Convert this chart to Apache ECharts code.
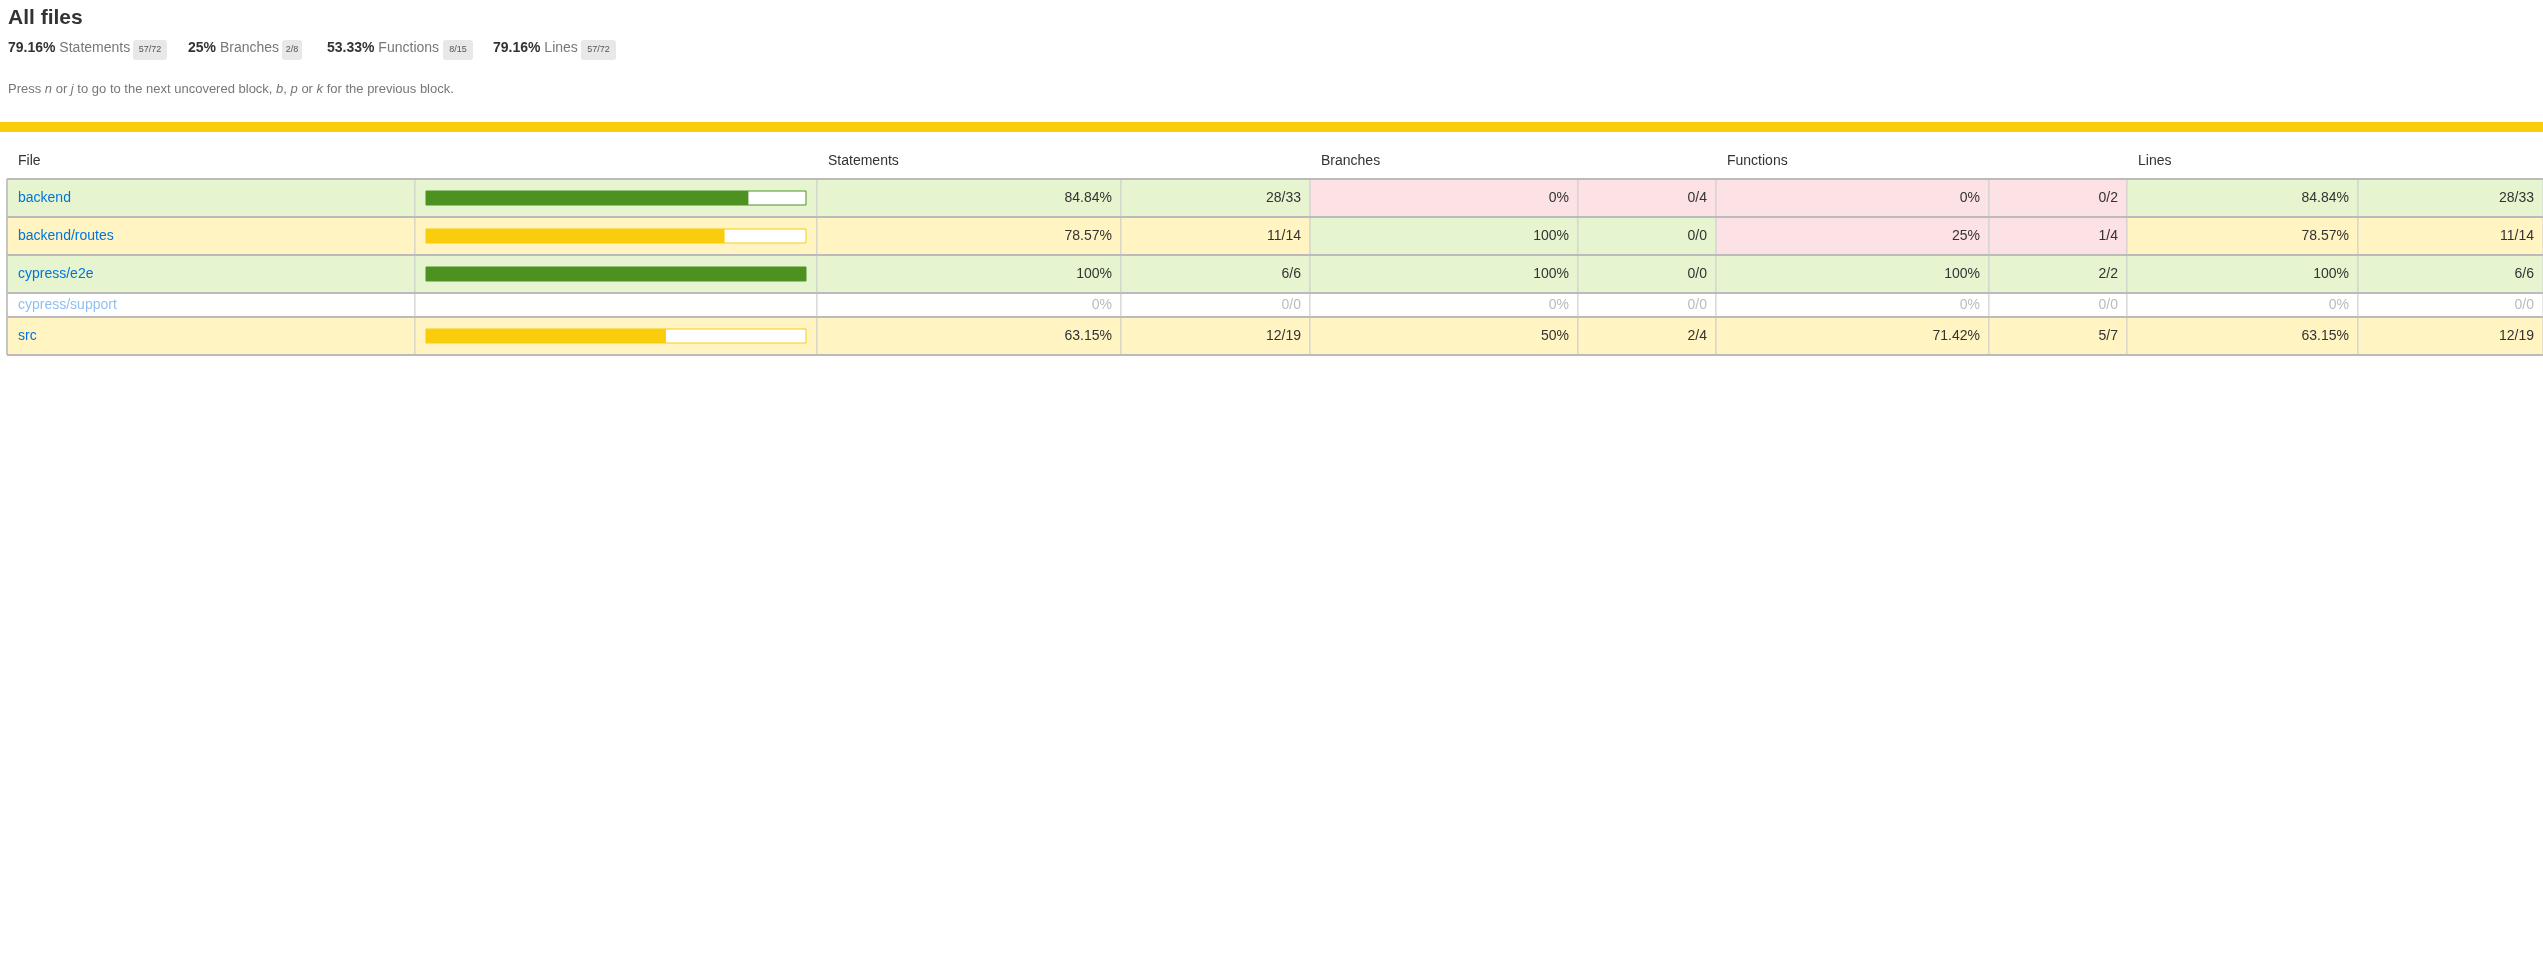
<!DOCTYPE html>
<html>
<head>
<meta charset="utf-8">
<script src="https://cdn.jsdelivr.net/npm/echarts@6/dist/echarts.min.js"></script>
<style>
  html, body { margin: 0; padding: 0; background: #fff; }
  #main { width: 2543px; height: 954px; }
</style>
</head>
<body>
<div id="main"></div>
<script>
// data
const files = ['backend', 'backend/routes', 'cypress/e2e', 'cypress/support', 'src'];
const stmtPct = [84.84, 78.57, 100, 0, 63.15];
const stmtFrac = ['28/33', '11/14', '6/6', '0/0', '12/19'];
const branchPct = [0, 100, 100, 0, 50];
const branchFrac = ['0/4', '0/0', '0/0', '0/0', '2/4'];
const funcPct = [0, 25, 100, 0, 71.42];
const funcFrac = ['0/2', '1/4', '2/2', '0/0', '5/7'];
const linePct = [84.84, 78.57, 100, 0, 63.15];
const lineFrac = ['28/33', '11/14', '6/6', '0/0', '12/19'];
const emptyRows = [false, false, false, true, false];
const headers = ['File', '', 'Statements', '', 'Branches', '', 'Functions', '', 'Lines', ''];
const summary = [
  { pct: '79.16%', label: 'Statements', frac: '57/72' },
  { pct: '25%', label: 'Branches', frac: '2/8' },
  { pct: '53.33%', label: 'Functions', frac: '8/15' },
  { pct: '79.16%', label: 'Lines', frac: '57/72' }
];

const FONT = '"Liberation Sans", Arial, sans-serif';
const colX = [7, 415, 817, 1121, 1310, 1578, 1716, 1989, 2127, 2358, 2543];
const rowY = [179, 217, 255, 293, 317, 355];
const levels = {
  high: { bg: '#e6f5d0', bar: '#4d9221' },
  medium: { bg: '#fff4c2', bar: '#f9cd0b' },
  low: { bg: '#fce1e5', bar: '#c21f39' },
  empty: { bg: '#ffffff', bar: '#ffffff' }
};
function level(p, empty) {
  if (empty) return 'empty';
  if (p >= 80) return 'high';
  if (p >= 50) return 'medium';
  return 'low';
}
const fmtPct = v => v + '%';

const graphic = [];
// header
graphic.push({ type: 'text', left: 8, top: 8, style: { text: 'All files', font: 'bold 21px ' + FONT, fill: '#333' } });
const sumX = [8, 188, 327, 493];
const badgeX = [[133, 167], [282, 302], [443, 473], [581, 616]];
summary.forEach((s, i) => {
  graphic.push({
    type: 'text', left: sumX[i], top: 41,
    style: {
      text: '{b|' + s.pct + '} ' + s.label,
      font: '14px ' + FONT, fill: '#777',
      rich: { b: { font: 'bold 14px ' + FONT, fill: '#333' } }
    }
  });
  graphic.push({
    type: 'rect', shape: { x: badgeX[i][0], y: 40, width: badgeX[i][1] - badgeX[i][0], height: 20, r: 3 },
    style: { fill: '#e8e8e8' }
  });
  graphic.push({
    type: 'text', x: (badgeX[i][0] + badgeX[i][1]) / 2, y: 50,
    style: { text: s.frac, font: '9px ' + FONT, fill: '#555', align: 'center', verticalAlign: 'middle' }
  });
});
graphic.push({
  type: 'text', left: 8, top: 83,
  style: {
    text: 'Press {i|n} or {i|j} to go to the next uncovered block, {i|b}, {i|p} or {i|k} for the previous block.',
    font: '13px ' + FONT, fill: '#777',
    rich: { i: { font: 'italic 13px ' + FONT, fill: '#777' } }
  }
});
graphic.push({ type: 'rect', shape: { x: 0, y: 122, width: 2543, height: 10 }, style: { fill: '#f9cd0b' } });

// table header
headers.forEach((h, c) => {
  if (!h) return;
  graphic.push({ type: 'text', x: colX[c] + 11, y: 161, style: { text: h, font: '14px ' + FONT, fill: '#333', verticalAlign: 'middle' } });
});

// table body
const cols = [
  [stmtPct, stmtFrac], [branchPct, branchFrac], [funcPct, funcFrac], [linePct, lineFrac]
];
files.forEach((f, r) => {
  const y0 = rowY[r], y1 = rowY[r + 1], cy = (y0 + y1) / 2;
  const empty = emptyRows[r];
  const rowLv = level(stmtPct[r], empty);
  const cellLv = [rowLv, rowLv];
  cols.forEach(([p]) => { const lv = level(p[r], empty); cellLv.push(lv, lv); });
  for (let c = 0; c < 10; c++) {
    graphic.push({
      type: 'rect', z: 1, shape: { x: colX[c], y: y0, width: colX[c + 1] - colX[c], height: y1 - y0 },
      style: { fill: levels[cellLv[c]].bg, stroke: '#cfcfcf', lineWidth: 1 }
    });
  }
  graphic.push({
    type: 'text', z: 3, x: colX[0] + 11, y: cy,
    style: { text: f, font: '14px ' + FONT, fill: empty ? '#8fbff0' : '#0074d9', verticalAlign: 'middle' }
  });
  cols.forEach(([p, fr], k) => {
    const txtFill = empty ? '#bbb' : '#333';
    graphic.push({
      type: 'text', z: 3, x: colX[2 + 2 * k + 1] - 9, y: cy,
      style: { text: fmtPct(p[r]), font: '14px ' + FONT, fill: txtFill, align: 'right', verticalAlign: 'middle' }
    });
    graphic.push({
      type: 'text', z: 3, x: colX[2 + 2 * k + 2] - 9, y: cy,
      style: { text: fr[r], font: '14px ' + FONT, fill: txtFill, align: 'right', verticalAlign: 'middle' }
    });
  });
});
// row separators
rowY.forEach(y => {
  graphic.push({ type: 'line', z: 2, shape: { x1: colX[0], y1: y, x2: 2543, y2: y }, style: { stroke: '#bbb', lineWidth: 2 } });
});
graphic.push({ type: 'line', z: 2, shape: { x1: colX[0], y1: rowY[0], x2: colX[0], y2: rowY[5] }, style: { stroke: '#bbb', lineWidth: 1.5 } });

// coverage bars: one grid per row
const grid = [], xAxis = [], yAxis = [], series = [];
files.forEach((f, r) => {
  if (emptyRows[r]) return;
  const i = grid.length;
  const cy = (rowY[r] + rowY[r + 1]) / 2;
  const lv = levels[level(stmtPct[r], false)];
  grid.push({ left: 426, width: 380, top: cy - 7, height: 14, z: 5 });
  xAxis.push({ type: 'value', gridIndex: i, min: 0, max: 100, show: false });
  yAxis.push({ type: 'category', gridIndex: i, data: [f], show: false });
  series.push({
    type: 'bar', xAxisIndex: i, yAxisIndex: i, z: 5,
    data: [stmtPct[r]], barWidth: 14, silent: true, animation: false,
    itemStyle: { color: lv.bar },
    showBackground: true,
    backgroundStyle: { color: '#fff', borderColor: lv.bar, borderWidth: 1 }
  });
});

const chart = echarts.init(document.getElementById('main'));
chart.setOption({
  animation: false,
  graphic,
  grid, xAxis, yAxis, series
});
</script>
</body>
</html>
